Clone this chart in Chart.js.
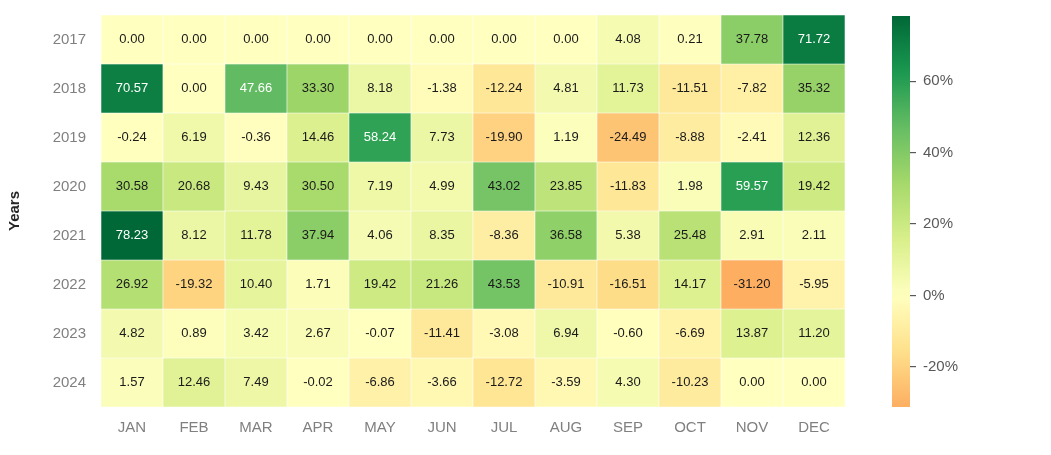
<!DOCTYPE html>
<html>
<head>
<meta charset="utf-8">
<script src="https://cdn.jsdelivr.net/npm/chart.js@4.4.1/dist/chart.umd.min.js"></script>
<style>
    html, body { margin: 0; padding: 0; background: #fff; }
    #wrap { position: relative; width: 1051px; height: 455px; }
    #heatWrap { position: absolute; left: 0; top: 0; width: 860px; height: 455px; }
    #barWrap { position: absolute; left: 860px; top: 0; width: 191px; height: 455px; }
</style>
</head>
<body>
<div id="wrap">
    <div id="heatWrap"><canvas id="heatChart"></canvas></div>
    <div id="barWrap"><canvas id="colorBar"></canvas></div>
</div>
<script>
const months = ['JAN', 'FEB', 'MAR', 'APR', 'MAY', 'JUN', 'JUL', 'AUG', 'SEP', 'OCT', 'NOV', 'DEC'];
const years = ['2017', '2018', '2019', '2020', '2021', '2022', '2023', '2024'];

const returns2017 = [0.00, 0.00, 0.00, 0.00, 0.00, 0.00, 0.00, 0.00, 4.08, 0.21, 37.78, 71.72];
const returns2018 = [70.57, 0.00, 47.66, 33.30, 8.18, -1.38, -12.24, 4.81, 11.73, -11.51, -7.82, 35.32];
const returns2019 = [-0.24, 6.19, -0.36, 14.46, 58.24, 7.73, -19.90, 1.19, -24.49, -8.88, -2.41, 12.36];
const returns2020 = [30.58, 20.68, 9.43, 30.50, 7.19, 4.99, 43.02, 23.85, -11.83, 1.98, 59.57, 19.42];
const returns2021 = [78.23, 8.12, 11.78, 37.94, 4.06, 8.35, -8.36, 36.58, 5.38, 25.48, 2.91, 2.11];
const returns2022 = [26.92, -19.32, 10.40, 1.71, 19.42, 21.26, 43.53, -10.91, -16.51, 14.17, -31.20, -5.95];
const returns2023 = [4.82, 0.89, 3.42, 2.67, -0.07, -11.41, -3.08, 6.94, -0.60, -6.69, 13.87, 11.20];
const returns2024 = [1.57, 12.46, 7.49, -0.02, -6.86, -3.66, -12.72, -3.59, 4.30, -10.23, 0.00, 0.00];

const returnsByYear = [returns2017, returns2018, returns2019, returns2020,
                       returns2021, returns2022, returns2023, returns2024];

const colorBarTicks = [-20, 0, 20, 40, 60];

// RdYlGn colormap nodes
const rdYlGn = [
    [165, 0, 38], [215, 48, 39], [244, 109, 67], [253, 174, 97], [254, 224, 139],
    [255, 255, 191], [217, 239, 139], [166, 217, 106], [102, 189, 99], [26, 152, 80], [0, 104, 55]
];

const allValues = returnsByYear.flat();
const vMin = Math.min(...allValues);
const vMax = Math.max(...allValues);
const vRange = Math.max(Math.abs(vMin), Math.abs(vMax));

function colorRgb(v) {
    let t = 0.5 + v / (2 * vRange);
    t = Math.max(0, Math.min(1, t)) * 10;
    const i = Math.min(9, Math.floor(t));
    const f = t - i;
    const a = rdYlGn[i], b = rdYlGn[i + 1];
    return [0, 1, 2].map(k => a[k] + (b[k] - a[k]) * f);
}

function colorFor(v) {
    const c = colorRgb(v);
    return `rgb(${c[0].toFixed(0)}, ${c[1].toFixed(0)}, ${c[2].toFixed(0)})`;
}

function textColorFor(v) {
    const lin = colorRgb(v).map(c => {
        c = c / 255;
        return c <= 0.03928 ? c / 12.92 : Math.pow((c + 0.055) / 1.055, 2.4);
    });
    const lum = 0.2126 * lin[0] + 0.7152 * lin[1] + 0.0722 * lin[2];
    return lum > 0.408 ? '#1a1a1a' : '#ffffff';
}

const cellLabels = {
    id: 'cellLabels',
    afterDatasetsDraw(chart) {
        const ctx = chart.ctx;
        ctx.save();
        ctx.font = '13px "Liberation Sans", Arial, sans-serif';
        ctx.textAlign = 'center';
        ctx.textBaseline = 'middle';
        chart.data.datasets.forEach((ds, di) => {
            const meta = chart.getDatasetMeta(di);
            meta.data.forEach((el, mi) => {
                const v = returnsByYear[di][mi];
                const p = el.getCenterPoint();
                ctx.fillStyle = textColorFor(v);
                ctx.fillText(v.toFixed(2), p.x, p.y);
            });
        });
        ctx.restore();
    }
};

const tickFont = { family: '"Liberation Sans", Arial, sans-serif', size: 15 };

const heatChart = new Chart(document.getElementById('heatChart'), {
    type: 'bar',
    data: {
        labels: months,
        datasets: years.map((year, i) => ({
            label: year,
            data: months.map(() => [i, i + 1]),
            backgroundColor: returnsByYear[i].map(colorFor),
            borderColor: '#ffffff',
            borderWidth: 0.6,
            borderSkipped: false,
            barPercentage: 1,
            categoryPercentage: 1,
            grouped: false
        }))
    },
    options: {
        responsive: true,
        maintainAspectRatio: false,
        animation: false,
        events: [],
        layout: { padding: { left: 0, right: 15, top: 15, bottom: 0 } },
        plugins: { legend: { display: false }, tooltip: { enabled: false } },
        scales: {
            x: {
                grid: { display: false, drawTicks: false },
                border: { display: false },
                ticks: { color: '#808080', font: tickFont, padding: 12 },
                afterFit: (scale) => {
                    scale.height = 48;
                    scale.paddingLeft = 0;
                    scale.paddingRight = 0;
                }
            },
            y: {
                type: 'linear',
                min: 0,
                max: years.length,
                reverse: true,
                grid: { display: false, drawTicks: false },
                border: { display: false },
                afterBuildTicks: (scale) => {
                    scale.ticks = years.map((y, i) => ({ value: i + 0.5 }));
                },
                ticks: {
                    color: '#808080',
                    font: tickFont,
                    padding: 15,
                    callback: (value, index) => years[index]
                },
                title: {
                    display: true,
                    text: 'Years',
                    color: '#262626',
                    font: { family: '"Liberation Sans", Arial, sans-serif', size: 15, weight: 'bold' },
                    padding: { top: 6, bottom: 4 }
                },
                afterFit: (scale) => {
                    scale.width = 101;
                    scale.paddingTop = 0;
                    scale.paddingBottom = 0;
                }
            }
        }
    },
    plugins: [cellLabels]
});

function barGradient(context) {
    const chart = context.chart;
    const y = chart.scales.y;
    if (!chart.chartArea || !y) return colorFor(0);
    const g = chart.ctx.createLinearGradient(0, y.getPixelForValue(vMin), 0, y.getPixelForValue(vMax));
    const steps = 40;
    for (let k = 0; k <= steps; k++) {
        const v = vMin + (vMax - vMin) * k / steps;
        g.addColorStop(k / steps, colorFor(v));
    }
    return g;
}

const colorBar = new Chart(document.getElementById('colorBar'), {
    type: 'bar',
    data: {
        labels: [''],
        datasets: [{
            data: [[vMin, vMax]],
            backgroundColor: barGradient,
            borderWidth: 0,
            barPercentage: 1,
            categoryPercentage: 1
        }]
    },
    options: {
        responsive: true,
        maintainAspectRatio: false,
        animation: false,
        events: [],
        layout: { padding: { left: 32, right: 0, top: 15, bottom: 48 } },
        plugins: { legend: { display: false }, tooltip: { enabled: false } },
        scales: {
            x: { display: false },
            y: {
                position: 'right',
                min: vMin,
                max: vMax,
                border: { display: false },
                grid: { drawOnChartArea: false, drawTicks: true, tickLength: 6, color: '#595959', lineWidth: 1.2 },
                afterBuildTicks: (scale) => {
                    scale.ticks = colorBarTicks.map(v => ({ value: v }));
                },
                ticks: {
                    color: '#595959',
                    font: tickFont,
                    padding: 7,
                    callback: (value) => value + '%'
                },
                afterFit: (scale) => { scale.width = 141; }
            }
        }
    }
});
</script>
</body>
</html>
